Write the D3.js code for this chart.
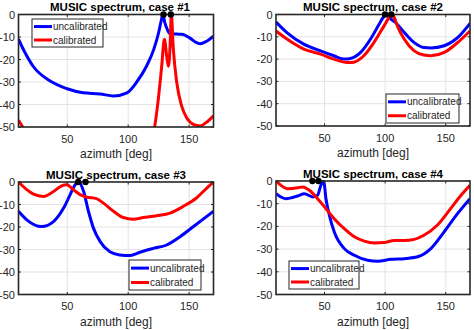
<!DOCTYPE html>
<html>
<head>
<meta charset="utf-8">
<script src="https://cdn.jsdelivr.net/npm/d3@7"></script>
<style>
  body { margin: 0; background: #fff; }
  svg { display: block; font-family: "Liberation Sans", Arial, sans-serif; }
</style>
</head>
<body>
<div id="chart"></div>
<script>
// azimuth samples and spectrum values (dB) for each case
const az1 = [10, 13.5, 22, 36, 50, 63, 77, 88, 99, 107, 115, 121, 125, 127, 128.5, 130, 131.6, 134, 140, 144, 150.7, 156, 159, 164, 170];
const unc1 = [-11, -15, -23, -29.6, -33, -34.8, -35.3, -36.2, -34.8, -30, -23, -15.5, -8, -3, 0, -3.5, -6, -8.5, -8.7, -8.8, -10.5, -12.5, -13, -12, -9.6];
const az1c = [10, 13.5, 20, 60, 115, 121, 124.7, 127.5, 129.7, 131.6, 133, 134.3, 135.4, 137, 139.8, 143.9, 148, 153.4, 159, 164, 170];
const cal1 = [-47, -50, -55, -60, -60, -52, -37.7, -23, -11, -18.5, -23, -15, 0, -15, -30, -40.7, -45.9, -48.8, -49.5, -48, -45];

const az2 = [10, 19, 32.9, 46.7, 57.7, 66, 71.5, 79.8, 88, 95, 98.5, 101, 103.5, 108.8, 115.7, 124, 132, 137.7, 148.8, 159.8, 170];
const unc2 = [-3.4, -8.1, -13.3, -16.3, -18.5, -20, -19.7, -17, -11, -4.4, -1.2, 0, -1.5, -3.7, -8, -12.6, -14.8, -15, -14, -10.4, -4];
const az2c = [10, 19, 32.9, 46.7, 57.7, 68.7, 72.8, 82.4, 90.7, 99, 103.5, 106, 108, 110, 115.7, 124, 132, 137.7, 148.8, 159.8, 170];
const cal2 = [-7.4, -11, -15.5, -17.8, -20, -21.5, -21.5, -18.5, -12.6, -5.2, -1.2, 0, -2, -5, -11, -16.3, -18.2, -18.5, -17, -12.6, -7.4];

const az3 = [10, 16.8, 29, 38.7, 47, 52.4, 56.5, 59.5, 63.3, 67.4, 71.5, 77, 85, 93, 101.6, 109.7, 120.7, 131.6, 142.6, 153.6, 164.5, 170];
const unc3 = [-13, -16.8, -19.8, -17.6, -11.6, -5.6, -1.2, 0, -4, -13, -20.5, -26.5, -31, -32.4, -32.7, -31.2, -29.5, -28, -24.3, -19.8, -15.3, -13];
const az3c = [10, 16.8, 22.3, 30.5, 38.7, 45, 49.6, 55, 60.6, 66, 74, 79.7, 88, 96, 104, 112.5, 123.4, 134.4, 145, 156, 164.5, 170];
const cal3 = [0, -3.4, -5.4, -6.4, -4.2, -1.8, -1.2, -3.4, -5.6, -6.7, -7.4, -9.4, -13, -15.8, -16.5, -15.8, -15, -13.8, -10.9, -7.1, -2.7, 0];

const az4 = [10, 18.2, 27.9, 33.4, 40.2, 44.3, 47, 49.3, 51.2, 54, 58, 66.3, 74.6, 85.5, 93.8, 104.8, 115.8, 126.8, 137.7, 148.7, 159.7, 170];
const unc4 = [-5.6, -7.8, -6.6, -5.6, -7, -6.3, -1.9, 0, -7.8, -15, -22.4, -29.8, -32.7, -34.9, -35.3, -34.5, -34.2, -33.4, -29.8, -22.4, -14.4, -7.8];
const az4c = [10, 14, 19.6, 27.9, 32, 37.5, 44.3, 51.2, 58, 66.3, 74.6, 82.8, 91, 99.3, 107.5, 115.8, 124, 132, 143, 154, 162.6, 170];
const cal4 = [0, -1.9, -3.4, -3, -2.6, -4.1, -7.8, -12.2, -16.6, -21, -24.6, -26.5, -27.3, -27.1, -26.2, -26.2, -25.7, -23.9, -19.5, -12.2, -6.3, -1.9];

// estimated directions shown as black dots
const peaks1 = [129, 135];
const peaks2 = [100, 105];
const peaks3 = [59, 65];
const peaks4 = [40, 45];

const xTicks = [50, 100, 150];
const yTicks = [0, -10, -20, -30, -40, -50];
const seriesNames = ["uncalibrated", "calibrated"];

const panels = [
    {title: "MUSIC spectrum, case #1", az: [az1, az1c], vals: [unc1, cal1], peaks: peaks1,
     box: {x0: 18.5, x1: 213.5, y0: 14.5, y1: 127}, legend: {x: 32, y: 19, w: 71, h: 28}},
    {title: "MUSIC spectrum, case #2", az: [az2, az2c], vals: [unc2, cal2], peaks: peaks2,
     box: {x0: 276, x1: 470, y0: 14.5, y1: 126}, legend: {x: 386, y: 94, w: 73, h: 29}},
    {title: "MUSIC spectrum, case #3", az: [az3, az3c], vals: [unc3, cal3], peaks: peaks3,
     box: {x0: 18.5, x1: 213.5, y0: 182, y1: 294.5}, legend: {x: 129, y: 260, w: 72, h: 30}},
    {title: "MUSIC spectrum, case #4", az: [az4, az4c], vals: [unc4, cal4], peaks: peaks4,
     box: {x0: 276, x1: 470, y0: 181, y1: 294.5}, legend: {x: 289, y: 261, w: 70, h: 28}}
];

const colors = ["#0000ff", "#ff0000"];

const svg = d3.select("#chart").append("svg")
    .attr("width", 474)
    .attr("height", 330);

panels.forEach((p, idx) => {
    const b = p.box;
    const x = d3.scaleLinear().domain([10, 170]).range([b.x0, b.x1]);
    const y = d3.scaleLinear().domain([-50, 0]).range([b.y1, b.y0]);
    const g = svg.append("g");

    // grid
    g.selectAll(".vgrid").data(xTicks).enter().append("line")
        .attr("x1", d => x(d)).attr("x2", d => x(d))
        .attr("y1", b.y0).attr("y2", b.y1)
        .attr("stroke", "#e3e3e3").attr("stroke-width", 1);
    g.selectAll(".hgrid").data(yTicks.slice(1, -1)).enter().append("line")
        .attr("x1", b.x0).attr("x2", b.x1)
        .attr("y1", d => y(d)).attr("y2", d => y(d))
        .attr("stroke", "#e3e3e3").attr("stroke-width", 1);

    // spectrum curves, clipped to the axes
    const clipId = "clip" + idx;
    svg.append("clipPath").attr("id", clipId).append("rect")
        .attr("x", b.x0).attr("y", b.y0 - 1)
        .attr("width", b.x1 - b.x0).attr("height", b.y1 - b.y0 + 1);

    const line = d3.line()
        .x(d => x(d[0]))
        .y(d => y(d[1]))
        .curve(d3.curveMonotoneX);

    p.vals.forEach((vals, k) => {
        const pts = p.az[k].map((a, i) => [a, vals[i]]);
        g.append("path")
            .datum(pts)
            .attr("clip-path", `url(#${clipId})`)
            .attr("fill", "none")
            .attr("stroke", colors[k])
            .attr("stroke-width", 3)
            .attr("stroke-linejoin", "round")
            .attr("d", line);
    });

    // axes box
    g.append("rect")
        .attr("x", b.x0).attr("y", b.y0)
        .attr("width", b.x1 - b.x0).attr("height", b.y1 - b.y0)
        .attr("fill", "none").attr("stroke", "#262626").attr("stroke-width", 1.6);

    // inward ticks
    g.selectAll(".xt").data(xTicks).enter().append("line")
        .attr("x1", d => x(d)).attr("x2", d => x(d))
        .attr("y1", b.y1).attr("y2", b.y1 - 2.5)
        .attr("stroke", "#262626");
    g.selectAll(".xt2").data(xTicks).enter().append("line")
        .attr("x1", d => x(d)).attr("x2", d => x(d))
        .attr("y1", b.y0).attr("y2", b.y0 + 2.5)
        .attr("stroke", "#262626");
    g.selectAll(".yt").data(yTicks).enter().append("line")
        .attr("x1", b.x0).attr("x2", b.x0 + 2.5)
        .attr("y1", d => y(d)).attr("y2", d => y(d))
        .attr("stroke", "#262626");
    g.selectAll(".yt2").data(yTicks).enter().append("line")
        .attr("x1", b.x1).attr("x2", b.x1 - 2.5)
        .attr("y1", d => y(d)).attr("y2", d => y(d))
        .attr("stroke", "#262626");

    // tick labels
    g.selectAll(".xl").data(xTicks).enter().append("text")
        .attr("x", d => x(d)).attr("y", b.y1 + 15.5)
        .attr("text-anchor", "middle")
        .style("font-size", "11px").style("fill", "#262626")
        .text(d => d);
    g.selectAll(".yl").data(yTicks).enter().append("text")
        .attr("x", b.x0 - 3.5).attr("y", d => y(d) + 4)
        .attr("text-anchor", "end")
        .style("font-size", "11px").style("fill", "#262626")
        .text(d => d);

    // x label
    g.append("text")
        .attr("x", (b.x0 + b.x1) / 2).attr("y", b.y1 + 31)
        .attr("text-anchor", "middle")
        .style("font-size", "12px").style("fill", "#262626")
        .text("azimuth [deg]");

    // title
    g.append("text")
        .attr("x", (b.x0 + b.x1) / 2 + (idx === 0 ? 4 : 0)).attr("y", b.y0 - 3.5)
        .attr("text-anchor", "middle")
        .style("font-size", "11.5px").style("font-weight", "bold").style("fill", "#000")
        .text(p.title);

    // estimated directions
    g.selectAll(".pk").data(p.peaks).enter().append("circle")
        .attr("cx", d => x(d)).attr("cy", y(0))
        .attr("r", 3.2)
        .attr("fill", "#000");

    // legend
    const L = p.legend;
    const lg = g.append("g");
    lg.append("rect")
        .attr("x", L.x).attr("y", L.y).attr("width", L.w).attr("height", L.h)
        .attr("fill", "#fff").attr("stroke", "#262626").attr("stroke-width", 1);
    seriesNames.forEach((name, k) => {
        const ly = L.y + L.h * (k === 0 ? 0.27 : 0.75);
        lg.append("line")
            .attr("x1", L.x + 2).attr("x2", L.x + 20)
            .attr("y1", ly).attr("y2", ly)
            .attr("stroke", colors[k]).attr("stroke-width", 3);
        lg.append("text")
            .attr("x", L.x + 21).attr("y", ly + 3.5)
            .style("font-size", "10px").style("fill", "#262626")
            .text(name);
    });
});
</script>
</body>
</html>
